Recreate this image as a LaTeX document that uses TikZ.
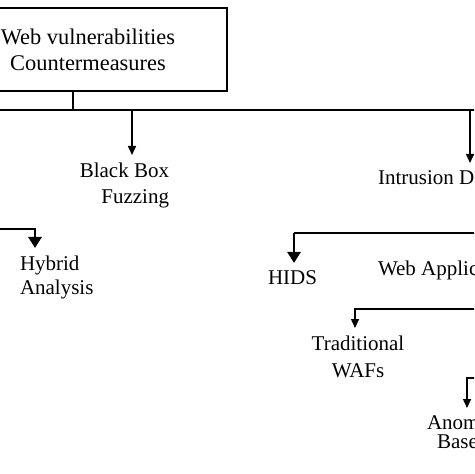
\documentclass[tikz,border=0pt]{standalone}
\usepackage{fontspec}
\setmainfont{Liberation Serif}
\usetikzlibrary{arrows.meta}
\tikzset{
  lbl/.style={inner xsep=0pt, inner ysep=4pt, outer sep=0pt, font=\fontsize{10.5}{13}\selectfont},
  link/.style={line width=0.75pt},
  thinarr/.style={line width=0.75pt, -{Triangle[width=4pt,length=4.5pt]}},
  thickarr/.style={line width=1.4pt, -{Triangle[width=6.5pt,length=5.5pt]}},
}

\begin{document}
\begin{tikzpicture}[x=0.5pt,y=0.5pt,yscale=-1,xscale=1]
\path[use as bounding box] (0,0) rectangle (474,474);
\clip (0,0) rectangle (474,474);

%Shape: Rectangle
\node[draw, line width=0.75pt, minimum width=139pt, minimum height=41.5pt, align=center, font=\fontsize{11.2}{13}\selectfont] (root) at (88,49.5) {Web vulnerabilities\\Countermeasures};

%Text nodes
\node[lbl, anchor=north east, align=right] (bbf) at (169,155) {Black Box\\Fuzzing};
\node[lbl, anchor=north west, align=left, font=\fontsize{10.5}{12}\selectfont] (hybrid) at (20,248) {Hybrid\\Analysis};
\node[lbl, anchor=north west] (ids) at (378,163) {Intrusion D};
\node[lbl, anchor=north west] (hids) at (268,263) {HIDS};
\node[lbl, anchor=north west] (waf) at (378,253) {Web Applic};
\node[lbl, anchor=north, align=center, font=\fontsize{10.5}{13.5}\selectfont] (trad) at (358,328) {Traditional\\WAFs};
\node[lbl, anchor=north west, align=left, font=\fontsize{10.5}{9.5}\selectfont] (anom) at (427,408) {Anom\\\hspace*{5pt}Base};

%Connector points
\coordinate (busL) at (-10,110);
\coordinate (busR) at (484,110);
\coordinate (stem) at (73,110);
\coordinate (bbfin) at (132,110);
\coordinate (idsin) at (470,110);
\coordinate (hybL) at (-10,229);
\coordinate (hybin) at (35,229);
\coordinate (hidsR) at (484,233);
\coordinate (hidsin) at (294,233);
\coordinate (tradR) at (484,309);
\coordinate (tradin) at (355,309);
\coordinate (anomR) at (484,378);
\coordinate (anomin) at (467,378);

%Straight Lines
\draw[link] (root.south -| stem) -- (stem);
\draw[link] (busL) -- (busR);
\draw[thinarr] (bbfin) -- (bbfin |- bbf.north);
\draw[thinarr] (idsin) -- (idsin |- ids.north);
\draw[thickarr] (hybL) -- (hybin) -- (hybin |- hybrid.north);
\draw[link] (hidsR) -- (hidsin);
\draw[thickarr] (hidsin) -- (hidsin |- hids.north);
\draw[thinarr] (tradR) -- (tradin) -- (tradin |- trad.north);
\draw[thinarr] (anomR) -- (anomin) -- (anomin |- anom.north);

\end{tikzpicture}
\end{document}
